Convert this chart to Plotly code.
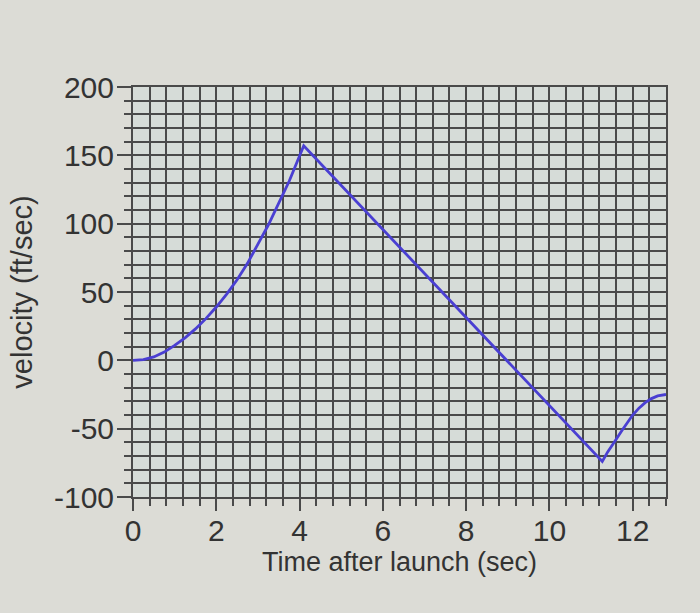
import plotly.graph_objects as go

# Data
time_sec = [0, 0.25, 0.5, 0.75, 1.0, 1.25, 1.5, 1.75, 2.0, 2.25, 2.5, 2.75,
            3.0, 3.25, 3.5, 3.75, 4.1,
            11.27, 11.4, 11.5, 11.62, 11.75, 11.9, 12.0, 12.15, 12.3, 12.45,
            12.6, 12.8]
velocity = [0, 0.5, 2.5, 6, 11, 16.5, 23, 30.5, 39, 48.5, 59, 71,
            85, 99, 115, 131, 157,
            -74, -67, -62, -57, -51, -44, -40, -35, -31, -28,
            -26, -25]

x_ticks = [0, 2, 4, 6, 8, 10, 12]
y_ticks = [-100, -50, 0, 50, 100, 150, 200]

grid_color = "#4a4a4a"
font_family = "Liberation Sans, Arial, sans-serif"

fig = go.Figure()
fig.add_trace(go.Scatter(
    x=time_sec, y=velocity, mode="lines",
    line=dict(color="#4a3fd2", width=2.8),
    showlegend=False,
))

fig.update_layout(
    width=700, height=613,
    margin=dict(l=133, r=34, t=87, b=116),
    paper_bgcolor="#dcdcd6",
    plot_bgcolor="#d6dcd8",
    font=dict(family=font_family, color="#333333", size=30),
)

fig.update_xaxes(
    range=[0, 12.8], automargin=False,
    tickmode="array", tickvals=x_ticks, ticktext=[str(v) for v in x_ticks],
    ticks="outside", ticklen=12, tickwidth=2, tickcolor=grid_color,
    ticklabelstandoff=-6,
    showgrid=True, gridcolor=grid_color, gridwidth=1.5,
    minor=dict(dtick=0.4, tick0=0, ticks="outside", ticklen=7, tickwidth=1.5,
               tickcolor=grid_color, showgrid=True, gridcolor=grid_color, gridwidth=1.5),
    showline=True, linecolor=grid_color, linewidth=2, mirror=True,
    zeroline=False,
    title=dict(text="Time after launch (sec)", font=dict(size=27), standoff=4),
    tickfont=dict(size=30),
)

fig.update_yaxes(
    range=[-100, 200], automargin=False,
    tickmode="array", tickvals=y_ticks, ticktext=[str(v) for v in y_ticks],
    ticks="outside", ticklen=14, tickwidth=2, tickcolor=grid_color,
    ticklabelstandoff=-3,
    showgrid=True, gridcolor=grid_color, gridwidth=1.5,
    minor=dict(dtick=10, tick0=0, ticks="outside", ticklen=7, tickwidth=1.5,
               tickcolor=grid_color, showgrid=True, gridcolor=grid_color, gridwidth=1.5),
    showline=True, linecolor=grid_color, linewidth=2, mirror=True,
    zeroline=False,
    title=dict(text="velocity (ft/sec)", font=dict(size=29), standoff=13),
    tickfont=dict(size=30),
)

fig.write_html("out.html", config={"displayModeBar": False},
               post_script="document.body.style.margin='0';")
